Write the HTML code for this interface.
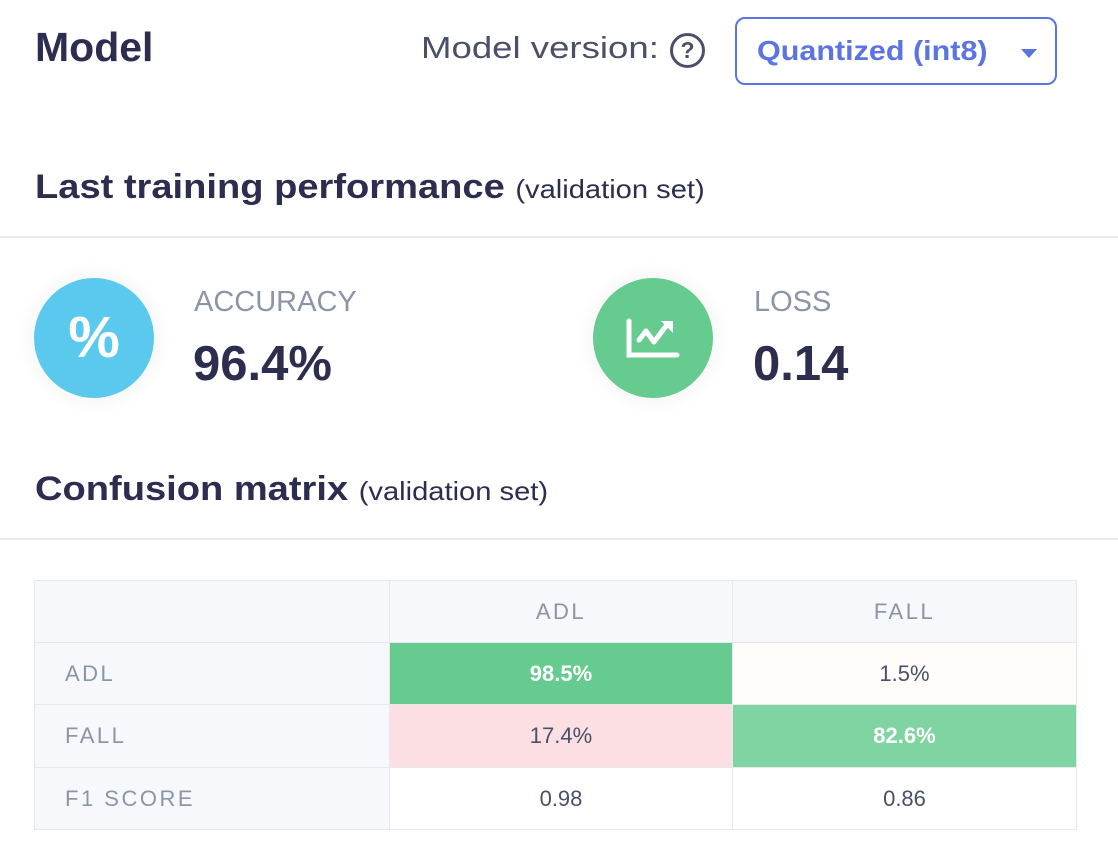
<!DOCTYPE html>
<html><head><meta charset="utf-8"><style>
body{margin:0;width:1118px;height:854px;background:#fff;font-family:"Liberation Sans",sans-serif;position:relative;overflow:hidden;color:#2d2d50}
.a{position:absolute;white-space:nowrap}
.hr{position:absolute;left:0;width:1118px;height:2px;background:#e9eaee}
.cell{position:absolute;box-sizing:border-box;border:1px solid #e6e8ee;display:flex;align-items:center;font-size:22px}
.hd{color:#8a96a8;letter-spacing:2.5px;font-size:22px}
</style></head><body>
<div class="a" style="left:35px;top:24px;font-size:41px;font-weight:bold;color:#2d2d50">Model</div>
<div class="a" style="left:421px;top:30px;font-size:31px;color:#4a5068;transform:scaleX(1.18);transform-origin:left">Model version:</div>
<div class="a" style="left:670px;top:33px;width:35px;height:35px;border:3px solid #4a5068;border-radius:50%;box-sizing:border-box;text-align:center;font-size:23px;font-weight:bold;line-height:29px;color:#4a5068">?</div>
<div class="a" style="left:735px;top:17px;width:322px;height:68px;border:2px solid #5b74e2;border-radius:10px;box-sizing:border-box;">
<span style="position:absolute;left:20px;top:16px;font-size:28px;font-weight:bold;color:#5b74e2;transform:scaleX(1.09);transform-origin:left;display:inline-block">Quantized (int8)</span>
<span style="position:absolute;left:284px;top:30px;width:0;height:0;border-left:8px solid transparent;border-right:8px solid transparent;border-top:9px solid #5b74e2"></span></div>
<div class="a" style="left:35px;top:168px;font-size:34px;font-weight:bold;transform:scaleX(1.12);transform-origin:left">Last training performance <span style="font-size:26px;font-weight:normal">(validation set)</span></div>
<div class="hr" style="top:236px"></div>
<div class="a" style="left:34px;top:278px;width:120px;height:120px;border-radius:50%;background:#5bc9ed;box-shadow:0 0 14px 8px rgba(0,0,0,0.03);color:#fff;font-size:58px;font-weight:bold;text-align:center;line-height:120px">%</div>
<div class="a" style="left:194px;top:286px;font-size:29px;color:#8a96a8">ACCURACY</div>
<div class="a" style="left:193px;top:336px;font-size:49px;font-weight:bold">96.4%</div>
<div class="a" style="left:593px;top:278px;width:120px;height:120px;border-radius:50%;background:#66cb8e;box-shadow:0 0 14px 8px rgba(0,0,0,0.03)">
<svg width="120" height="120"><path d="M36 43 V77 H84" stroke="#fff" stroke-width="5" fill="none" stroke-linecap="round"/><path d="M46 62 L53 53 L61 64 L73 48" stroke="#fff" stroke-width="5" fill="none" stroke-linejoin="round" stroke-linecap="round"/><path d="M68 43 H80 V55 Z" fill="#fff"/></svg></div>
<div class="a" style="left:754px;top:286px;font-size:29px;color:#8a96a8">LOSS</div>
<div class="a" style="left:753px;top:336px;font-size:49px;font-weight:bold">0.14</div>
<div class="a" style="left:35px;top:470px;font-size:34px;font-weight:bold;transform:scaleX(1.12);transform-origin:left">Confusion matrix <span style="font-size:26px;font-weight:normal">(validation set)</span></div>
<div class="hr" style="top:538px"></div>
<div id="tbl"></div>
<script>
const colLabels=["ADL","FALL"];
const rowLabels=["ADL","FALL"];
const matrix=[[98.5,1.5],[17.4,82.6]];
const f1Scores=[0.98,0.86];
const xs=[34,389,732,1076], ys=[580,642,704,767,829];
const t=document.getElementById('tbl');
function cell(x0,x1,y0,y1,txt,bg,col,center,hd,bold){
 const d=document.createElement('div');d.className='cell'+(hd?' hd':'');
 d.style.cssText+=`left:${x0}px;top:${y0}px;width:${x1-x0+1}px;height:${y1-y0+1}px;background:${bg};color:${col};justify-content:${center?'center':'flex-start'};padding-left:${center?0:30}px;font-weight:${bold?'bold':'normal'}`;
 d.textContent=txt;t.appendChild(d);return d;}
function bgFor(v,diag){if(diag)return v>90?'#66cb8e':'#80d4a2';if(v>10)return '#fbdfe2';return '#fffcfa';}
let c=cell(xs[0],xs[1],ys[0],ys[1],'','#f6f8fb','#8a96a8',false,true);


colLabels.forEach((l,j)=>{const e=cell(xs[j+1],xs[j+2],ys[0],ys[1],l,'#f6f8fb','#8a96a8',true,true);

});
rowLabels.forEach((l,i)=>{const e=cell(xs[0],xs[1],ys[i+1],ys[i+2],l,'#f6f8fb','#8a96a8',false,true);


matrix[i].forEach((v,j)=>{const d=i===j;const m=cell(xs[j+1],xs[j+2],ys[i+1],ys[i+2],v.toFixed(1)+'%',bgFor(v,d),d?'#fff':'#4a5068',true,false,d);

});});
const fr=cell(xs[0],xs[1],ys[3],ys[4],'F1 SCORE','#f6f8fb','#8a96a8',false,true);


f1Scores.forEach((v,j)=>{const e=cell(xs[j+1],xs[j+2],ys[3],ys[4],v.toFixed(2),'#fff','#4a5068',true,false);

});
</script>
</body></html>
